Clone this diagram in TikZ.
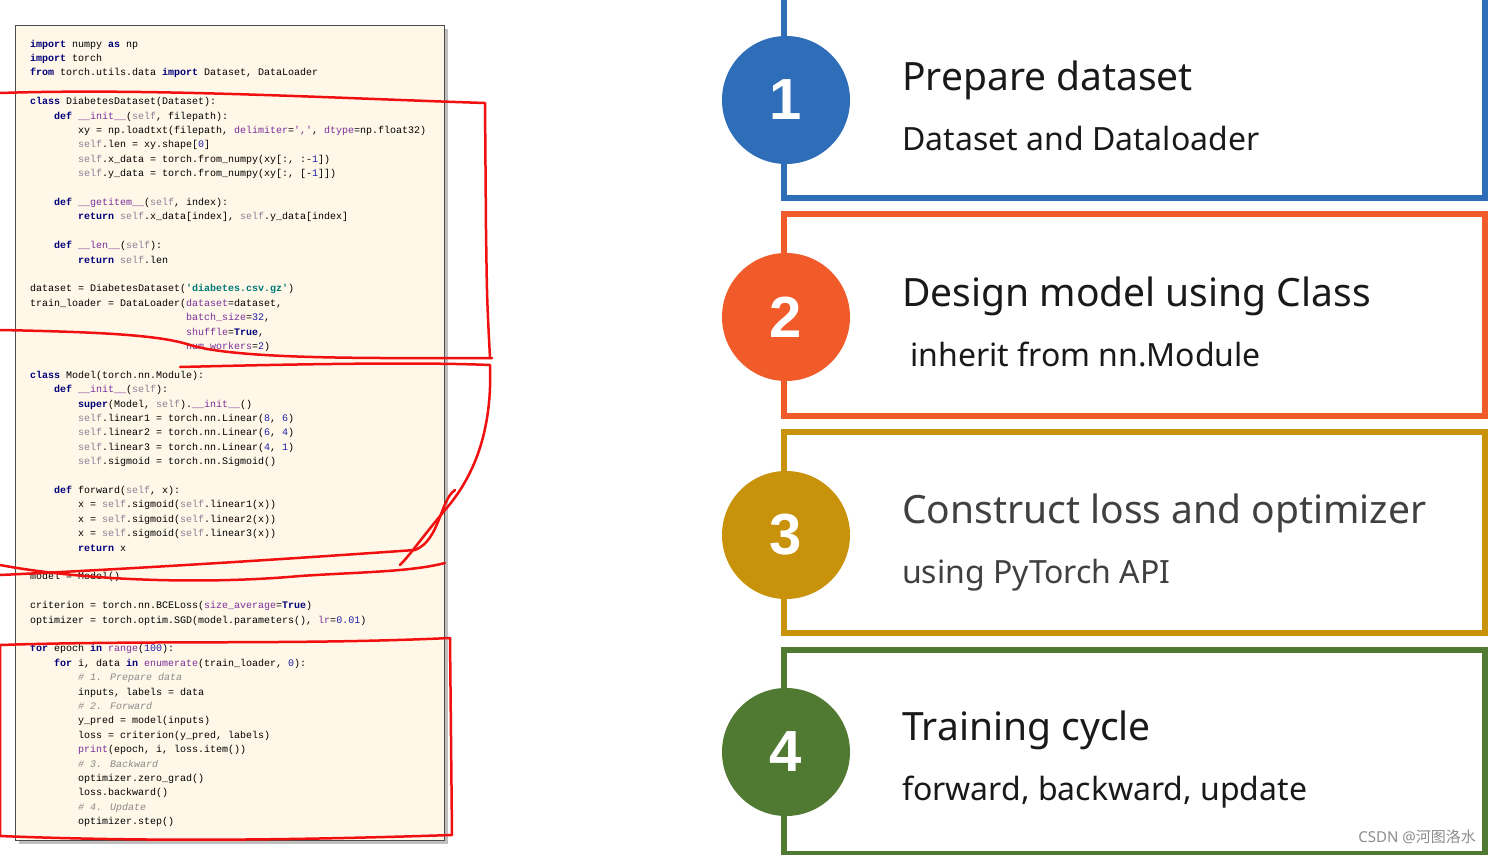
\documentclass[tikz,border=0pt]{standalone}
\usepackage{fontspec}
\setsansfont{Noto Sans}
\newfontfamily\cjk{Noto Sans CJK SC}
\newfontfamily\codef{Liberation Mono}
\newfontfamily\numf{Liberation Sans}
\definecolor{kwc}{HTML}{00007A}
\definecolor{selfc}{HTML}{8C7F96}
\definecolor{parc}{HTML}{7A2E9A}
\definecolor{numc}{HTML}{1E1EA8}
\definecolor{strc}{HTML}{007A78}
\definecolor{comc}{HTML}{8A8A8A}
\definecolor{paper}{HTML}{FFF8E8}
\definecolor{cblue}{HTML}{2E6DB8}
\definecolor{corange}{HTML}{F15A29}
\definecolor{cgold}{HTML}{C8930A}
\definecolor{cgreen}{HTML}{507A32}
\definecolor{hred}{HTML}{F01010}
\newcommand\Kw[1]{\textcolor{kwc}{\bfseries #1}}
\newcommand\Sf{\textcolor{selfc}{self}}
\newcommand\Pa[1]{\textcolor{parc}{#1}}
\newcommand\Nu[1]{\textcolor{numc}{#1}}
\newcommand\St[1]{\textcolor{strc}{\bfseries #1}}
\newcommand\Cm[1]{\textcolor{comc}{\itshape #1}}
\begin{document}
\begin{tikzpicture}[x=1pt,y=-1pt,
  cl/.style={anchor=base west,inner sep=0pt,font=\codef\fontsize{10}{12}\selectfont},
  box/.style={line width=6pt},
  num/.style={circle,minimum size=128pt,inner sep=0pt,text=white,font=\numf\bfseries\fontsize{58}{60}\selectfont},
  ttl/.style={anchor=base west,inner sep=0pt,font=\sffamily\fontsize{39}{40}\selectfont,text=black!90},
  sub/.style={anchor=base west,inner sep=0pt,font=\sffamily\fontsize{32}{34}\selectfont,text=black!90},
  hand/.style={hred,line width=2.5pt,line cap=round,line join=round}]
\useasboundingbox (0,0) rectangle (1491,854);
\fill[white] (0,0) rectangle (1491,854);
% code panel
\fill[black!25] (19,29) rectangle (448,844);
\draw[black!70,fill=paper,line width=1pt] (15,25) rectangle (444,840);
\def\L#1{47+14.4*(#1-1)}
\node[cl] (l1) at (30,{\L1}) {\Kw{import} numpy \Kw{as} np};
\node[cl] (l2) at (30,{\L2}) {\Kw{import} torch};
\node[cl] (l3) at (30,{\L3}) {\Kw{from} torch.utils.data \Kw{import} Dataset, DataLoader};
\node[cl] (l5) at (30,{\L5}) {\Kw{class} DiabetesDataset(Dataset):};
\node[cl] (l6) at (54,{\L6}) {\Kw{def} \Pa{\_\_init\_\_}(\Sf, filepath):};
\node[cl] (l7) at (78,{\L7}) {xy = np.loadtxt(filepath, \Pa{delimiter}=\Pa{','}, \Pa{dtype}=np.float32)};
\node[cl] (l8) at (78,{\L8}) {\Sf.len = xy.shape[\Nu{0}]};
\node[cl] (l9) at (78,{\L9}) {\Sf.x\_data = torch.from\_numpy(xy[:, :-\Nu{1}])};
\node[cl] (l10) at (78,{\L{10}}) {\Sf.y\_data = torch.from\_numpy(xy[:, [-\Nu{1}]])};
\node[cl] (l12) at (54,{\L{12}}) {\Kw{def} \Pa{\_\_getitem\_\_}(\Sf, index):};
\node[cl] (l13) at (78,{\L{13}}) {\Kw{return} \Sf.x\_data[index], \Sf.y\_data[index]};
\node[cl] (l15) at (54,{\L{15}}) {\Kw{def} \Pa{\_\_len\_\_}(\Sf):};
\node[cl] (l16) at (78,{\L{16}}) {\Kw{return} \Sf.len};
\node[cl] (l18) at (30,{\L{18}}) {dataset = DiabetesDataset(\St{'diabetes.csv.gz'})};
\node[cl] (l19) at (30,{\L{19}}) {train\_loader = DataLoader(\Pa{dataset}=dataset,};
\node[cl] (l20) at (186,{\L{20}}) {\Pa{batch\_size}=\Nu{32},};
\node[cl] (l21) at (186,{\L{21}}) {\Pa{shuffle}=\Kw{True},};
\node[cl] (l22) at (186,{\L{22}}) {\Pa{num\_workers}=\Nu{2})};
\node[cl] (l24) at (30,{\L{24}}) {\Kw{class} Model(torch.nn.Module):};
\node[cl] (l25) at (54,{\L{25}}) {\Kw{def} \Pa{\_\_init\_\_}(\Sf):};
\node[cl] (l26) at (78,{\L{26}}) {\Kw{super}(Model, \Sf).\Pa{\_\_init\_\_}()};
\node[cl] (l27) at (78,{\L{27}}) {\Sf.linear1 = torch.nn.Linear(\Nu{8}, \Nu{6})};
\node[cl] (l28) at (78,{\L{28}}) {\Sf.linear2 = torch.nn.Linear(\Nu{6}, \Nu{4})};
\node[cl] (l29) at (78,{\L{29}}) {\Sf.linear3 = torch.nn.Linear(\Nu{4}, \Nu{1})};
\node[cl] (l30) at (78,{\L{30}}) {\Sf.sigmoid = torch.nn.Sigmoid()};
\node[cl] (l32) at (54,{\L{32}}) {\Kw{def} forward(\Sf, x):};
\node[cl] (l33) at (78,{\L{33}}) {x = \Sf.sigmoid(\Sf.linear1(x))};
\node[cl] (l34) at (78,{\L{34}}) {x = \Sf.sigmoid(\Sf.linear2(x))};
\node[cl] (l35) at (78,{\L{35}}) {x = \Sf.sigmoid(\Sf.linear3(x))};
\node[cl] (l36) at (78,{\L{36}}) {\Kw{return} x};
\node[cl] (l38) at (30,{\L{38}}) {model = Model()};
\node[cl] (l40) at (30,{\L{40}}) {criterion = torch.nn.BCELoss(\Pa{size\_average}=\Kw{True})};
\node[cl] (l41) at (30,{\L{41}}) {optimizer = torch.optim.SGD(model.parameters(), \Pa{lr}=\Nu{0.01})};
\node[cl] (l43) at (30,{\L{43}}) {\Kw{for} epoch \Kw{in} \Pa{range}(\Nu{100}):};
\node[cl] (l44) at (54,{\L{44}}) {\Kw{for} i, data \Kw{in} \Pa{enumerate}(train\_loader, \Nu{0}):};
\node[cl] (l45) at (78,{\L{45}}) {\Cm{\# 1. Prepare data}};
\node[cl] (l46) at (78,{\L{46}}) {inputs, labels = data};
\node[cl] (l47) at (78,{\L{47}}) {\Cm{\# 2. Forward}};
\node[cl] (l48) at (78,{\L{48}}) {y\_pred = model(inputs)};
\node[cl] (l49) at (78,{\L{49}}) {loss = criterion(y\_pred, labels)};
\node[cl] (l50) at (78,{\L{50}}) {\Pa{print}(epoch, i, loss.item())};
\node[cl] (l51) at (78,{\L{51}}) {\Cm{\# 3. Backward}};
\node[cl] (l52) at (78,{\L{52}}) {optimizer.zero\_grad()};
\node[cl] (l53) at (78,{\L{53}}) {loss.backward()};
\node[cl] (l54) at (78,{\L{54}}) {\Cm{\# 4. Update}};
\node[cl] (l55) at (78,{\L{55}}) {optimizer.step()};
% hand-drawn red marks
\draw[hand] (0,93) .. controls (150,88) and (330,98) .. (485,103) -- (486,230) .. controls (487,300) .. (490,358);
\draw[hand] (0,330) .. controls (100,332) and (160,335) .. (190,345) .. controls (240,360) and (380,358) .. (492,358);
\draw[hand] (180,367) .. controls (300,364) and (420,362) .. (490,365) .. controls (492,420) and (480,470) .. (445,510) .. controls (420,540) and (410,555) .. (400,565);
\draw[hand] (0,575) .. controls (150,568) and (300,558) .. (415,550) .. controls (440,540) and (440,500) .. (455,490);
\draw[hand] (0,565) .. controls (80,580) and (200,585) .. (300,576) .. controls (360,572) and (410,572) .. (445,563);
\draw[hand] (0,645) .. controls (150,640) and (300,645) .. (450,638) -- (452,835) .. controls (300,840) and (150,842) .. (0,836) -- (0,645);
% right panel boxes
\draw[box,cblue] (784,0) -- (784,198) -- (1485,198) -- (1485,0);
\draw[box,corange] (784,214) rectangle (1485,416);
\draw[box,cgold] (784,432) rectangle (1485,633);
\draw[box,cgreen] (784,650) rectangle (1485,854);
\node[num,fill=cblue] (c1) at (786,100) {1};
\node[num,fill=corange] (c2) at (786,317) {2};
\node[num,fill=cgold] (c3) at (786,535) {3};
\node[num,fill=cgreen] (c4) at (786,752) {4};
\node[ttl] (t1) at (902,90) {Prepare dataset};
\node[sub] (s1) at (902,150) {Dataset and Dataloader};
\node[ttl] (t2) at (902,306) {Design model using Class};
\node[sub] (s2) at (910,366) {inherit from nn.Module};
\node[ttl,text=black!75] (t3) at (902,523) {Construct loss and optimizer};
\node[sub,text=black!75] (s3) at (902,583) {using PyTorch API};
\node[ttl] (t4) at (902,740) {Training cycle};
\node[sub] (s4) at (902,800) {forward, backward, update};
\node[anchor=base east,inner sep=0pt,text=black!45,font=\sffamily\fontsize{15}{16}\selectfont] (wm) at (1476,842) {CSDN @{\cjk 河图洛水}};
\end{tikzpicture}
\end{document}
